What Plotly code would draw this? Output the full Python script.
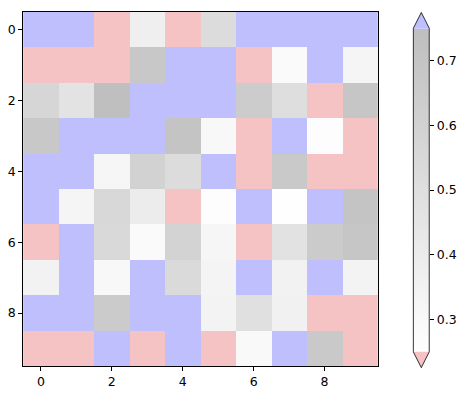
import numpy as np
import plotly.graph_objects as go

# Data (O = above 0.75 -> "over" colour, U = below 0.25 -> "under" colour)
O = 0.85
U = 0.15
row0 = [O, O, U, 0.373, U, 0.519, O, O, O, O]
row1 = [U, U, U, 0.673, O, O, U, 0.288, O, 0.327]
row2 = [0.565, 0.465, 0.742, O, O, O, 0.642, 0.504, U, 0.688]
row3 = [0.673, O, O, O, 0.704, 0.304, U, O, 0.265, U]
row4 = [O, O, 0.319, 0.596, 0.519, O, U, 0.665, U, U]
row5 = [O, 0.327, 0.55, 0.396, U, 0.265, O, 0.258, O, 0.704]
row6 = [U, O, 0.542, 0.288, 0.588, 0.319, U, 0.473, 0.65, 0.688]
row7 = [0.35, O, 0.304, O, 0.535, 0.335, O, 0.35, O, 0.342]
row8 = [O, O, 0.65, O, O, 0.342, 0.488, 0.358, U, U]
row9 = [U, U, O, U, O, U, 0.296, O, 0.665, U]
values = [row0, row1, row2, row3, row4, row5, row6, row7, row8, row9]
vmin, vmax = 0.25, 0.75
axis_ticks = [0, 2, 4, 6, 8]
cbar_ticks = [0.3, 0.4, 0.5, 0.6, 0.7]

UNDER = "#f5c3c3"
OVER = "#bfbffd"
LOW = "#ffffff"
HIGH = "#bebebe"

zlo, zhi = 0.2, 0.8
a = (vmin - zlo) / (zhi - zlo)
b = (vmax - zlo) / (zhi - zlo)
cscale = [[0, UNDER], [a, UNDER], [a, LOW], [b, HIGH], [b, OVER], [1, OVER]]

z = np.clip(np.array(values, dtype=float), zlo, zhi)

# page offset (body margin) and figure size
OFF = 8
W, H = 474 - 2 * OFF, 397 - 2 * OFF
def px(x):
    return (x - OFF) / W
def py(y):
    return 1 - (y - OFF) / H

fig = go.Figure()
fig.add_trace(go.Heatmap(z=z, x=list(range(10)), y=list(range(10)),
                         colorscale=cscale, zmin=zlo, zmax=zhi,
                         showscale=False, xaxis="x", yaxis="y",
                         hoverinfo="z"))

cb_y = np.linspace(vmin, vmax, 257)
cb_z = [[v] for v in cb_y]
fig.add_trace(go.Heatmap(z=cb_z, x=[0], y=cb_y, colorscale=cscale,
                         zmin=zlo, zmax=zhi, showscale=False,
                         xaxis="x2", yaxis="y2", hoverinfo="skip"))

tickfont = dict(family="DejaVu Sans", size=12.5, color="black")
axcommon = dict(showgrid=False, zeroline=False, showline=True, mirror=True,
                linecolor="black", linewidth=0.8, ticks="outside",
                ticklen=4, tickwidth=0.8, tickcolor="black", tickfont=tickfont)

# colorbar geometry in page pixels
cx0, cx1 = 413, 429
cy_top, cy_bot = 28.4, 354.6
apex_top, apex_bot = 12.5, 370.5

fig.update_layout(
    width=W, height=H, margin=dict(l=0, r=0, t=0, b=0),
    paper_bgcolor="white", plot_bgcolor="white",
    xaxis=dict(domain=[px(20.2), px(377.2)], range=[-0.5, 9.5],
               tickvals=axis_ticks, anchor="y", **axcommon),
    yaxis=dict(domain=[py(369), py(12)], range=[9.5, -0.5],
               tickvals=axis_ticks, anchor="x", **axcommon),
    xaxis2=dict(domain=[px(cx0), px(cx1)], range=[-0.5, 0.5], visible=False,
                anchor="y2"),
    yaxis2=dict(domain=[py(cy_bot), py(cy_top)], range=[vmin, vmax],
                side="right", anchor="x2", showgrid=False, zeroline=False,
                showline=False, ticks="outside", ticklen=4, tickwidth=0.8,
                tickcolor="black", tickvals=cbar_ticks, tickformat=".1f",
                tickfont=tickfont),
    showlegend=False,
)

cxm = (cx0 + cx1) / 2
# extension triangles
fig.add_shape(type="path", xref="paper", yref="paper",
              path=f"M {px(cx0)} {py(cy_top)} L {px(cxm)} {py(apex_top)} L {px(cx1)} {py(cy_top)} Z",
              fillcolor=OVER, line=dict(width=0))
fig.add_shape(type="path", xref="paper", yref="paper",
              path=f"M {px(cx0)} {py(cy_bot)} L {px(cxm)} {py(apex_bot)} L {px(cx1)} {py(cy_bot)} Z",
              fillcolor=UNDER, line=dict(width=0))
# outline
fig.add_shape(type="path", xref="paper", yref="paper",
              path=(f"M {px(cx0)} {py(cy_top)} L {px(cxm)} {py(apex_top)} L {px(cx1)} {py(cy_top)} "
                    f"L {px(cx1)} {py(cy_bot)} L {px(cxm)} {py(apex_bot)} L {px(cx0)} {py(cy_bot)} Z"),
              line=dict(color="black", width=0.8))

fig.write_html("out.html")
